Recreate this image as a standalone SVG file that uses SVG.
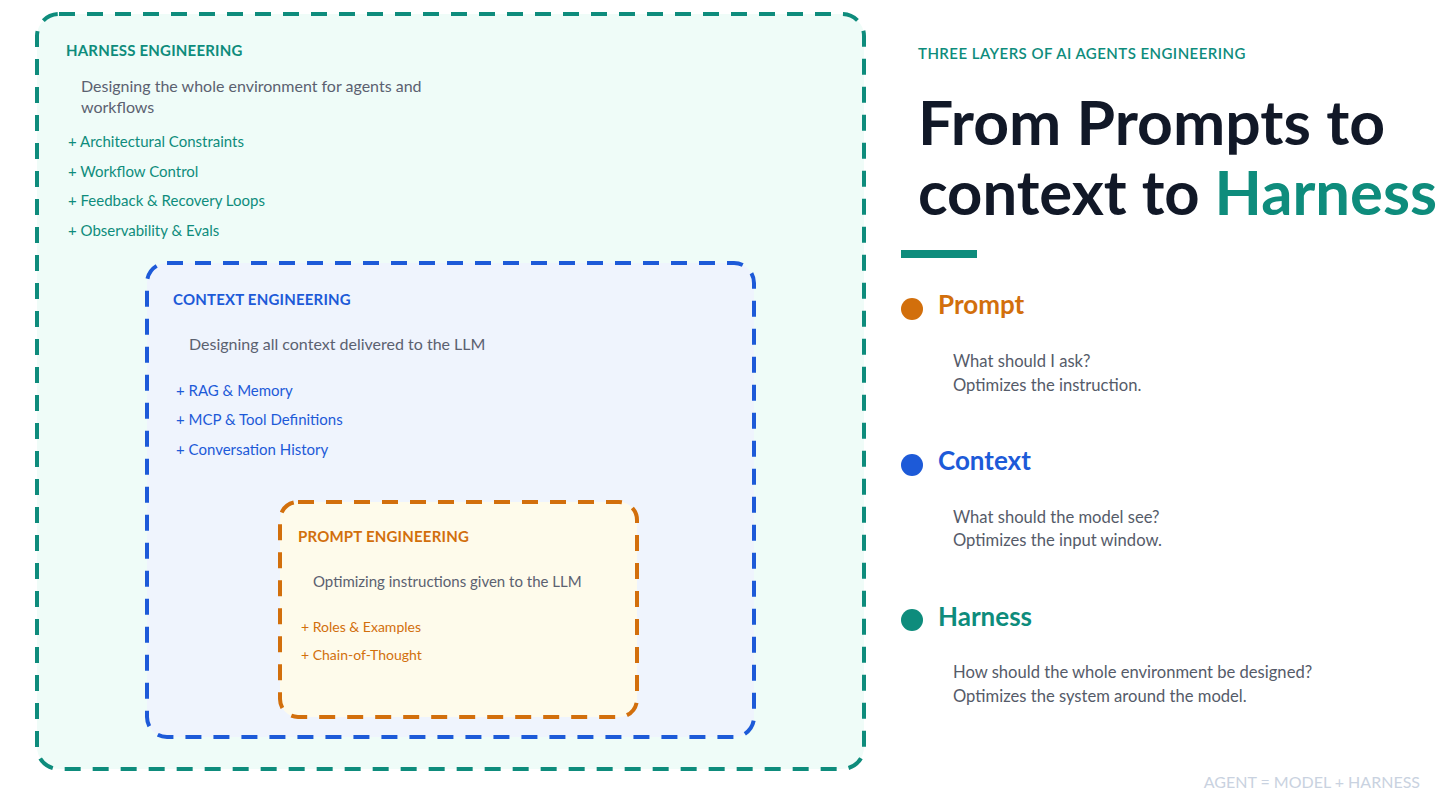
<svg xmlns="http://www.w3.org/2000/svg" width="1456" height="805" viewBox="0 0 1456 805">
<style>
text{font-family:Lato,"Noto Sans",sans-serif}
.box{stroke-width:4;stroke-dasharray:16 12;stroke-linecap:butt}
.h{font-size:15px;font-weight:700;letter-spacing:0.2px}
.d{font-size:16px;fill:#5B6170}
.i{font-size:15px}
.teal{fill:#0E8C7C}.blue{fill:#1D5AD8}.orange{fill:#D26F0C}
.sub{font-size:16.6px;fill:#555B69}
.lab{font-size:26px;font-weight:700}
.big{font-size:61px;font-weight:700;fill:#111827}
</style>
<rect width="1456" height="805" fill="#FFFFFF"/>
<g id="harness">
<rect class="box" x="37" y="14" width="827" height="755" rx="22" fill="#EFFCF8" stroke="#0E8C7C"/>
<text class="h teal" x="66" y="56">HARNESS ENGINEERING</text>
<text class="d" x="81" y="92">Designing the whole environment for agents and</text>
<text class="d" x="81" y="113">workflows</text>
<text class="i teal" x="68" y="147">+ Architectural Constraints</text>
<text class="i teal" x="68" y="177">+ Workflow Control</text>
<text class="i teal" x="68" y="206">+ Feedback &amp; Recovery Loops</text>
<text class="i teal" x="68" y="236">+ Observability &amp; Evals</text>
</g>
<g id="context">
<rect class="box" x="147" y="263" width="607" height="474" rx="20" fill="#EFF4FD" stroke="#1D5AD8"/>
<text class="h blue" x="173" y="305">CONTEXT ENGINEERING</text>
<text class="d" x="189" y="350">Designing all context delivered to the LLM</text>
<text class="i blue" x="176" y="396">+ RAG &amp; Memory</text>
<text class="i blue" x="176" y="425">+ MCP &amp; Tool Definitions</text>
<text class="i blue" x="176" y="455">+ Conversation History</text>
</g>
<g id="prompt">
<rect class="box" x="280" y="502" width="357" height="215" rx="18" fill="#FEFBEB" stroke="#D26F0C"/>
<text class="h orange" x="298" y="542">PROMPT ENGINEERING</text>
<text class="d" x="313" y="587" style="font-size:15px">Optimizing instructions given to the LLM</text>
<text class="i orange" x="301" y="632" style="font-size:14px">+ Roles &amp; Examples</text>
<text class="i orange" x="301" y="660" style="font-size:14px">+ Chain-of-Thought</text>
</g>
<g id="title">
<text class="teal" x="918" y="59" style="font-size:15px;font-weight:600;letter-spacing:0.45px">THREE LAYERS OF AI AGENTS ENGINEERING</text>
<text class="big" x="918" y="145" textLength="467" lengthAdjust="spacingAndGlyphs">From Prompts to</text>
<text class="big" x="918" y="215" textLength="519" lengthAdjust="spacingAndGlyphs">context to <tspan fill="#0E8C7C">Harness</tspan></text>
<rect x="901" y="250" width="76" height="8" fill="#0E8C7C"/>
</g>
<g id="legend-prompt">
<circle cx="912" cy="309" r="11" fill="#D26F0C"/>
<text class="lab orange" x="938" y="314">Prompt</text>
<text class="sub" x="953" y="367">What should I ask?</text>
<text class="sub" x="953" y="391">Optimizes the instruction.</text>
</g>
<g id="legend-context">
<circle cx="912" cy="465" r="11" fill="#1D5AD8"/>
<text class="lab blue" x="938" y="470">Context</text>
<text class="sub" x="953" y="523">What should the model see?</text>
<text class="sub" x="953" y="546">Optimizes the input window.</text>
</g>
<g id="legend-harness">
<circle cx="912" cy="620" r="11" fill="#0E8C7C"/>
<text class="lab teal" x="938" y="626">Harness</text>
<text class="sub" x="953" y="678">How should the whole environment be designed?</text>
<text class="sub" x="953" y="702">Optimizes the system around the model.</text>
</g>
<text x="1420" y="788" text-anchor="end" style="font-size:16px;fill:#C9D2E0">AGENT = MODEL + HARNESS</text>
<g id="connectors"/>
</svg>
